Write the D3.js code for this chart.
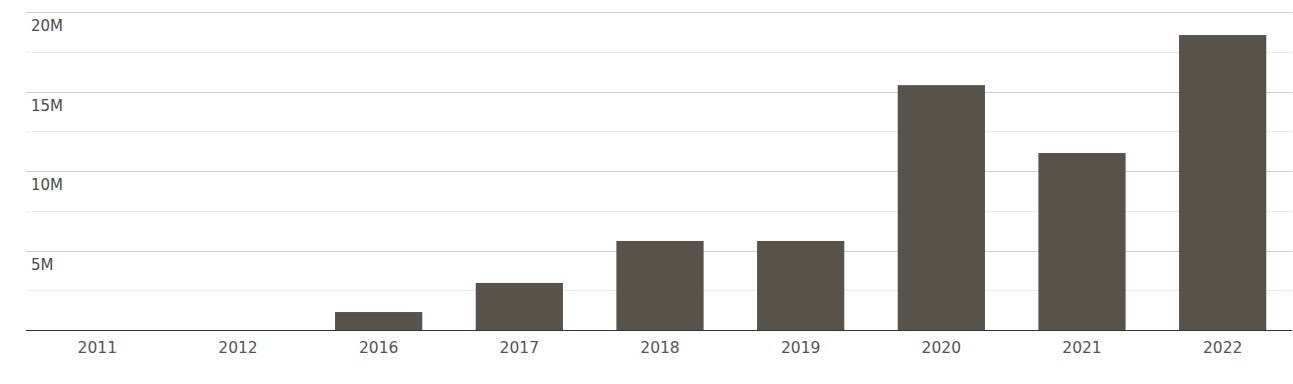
<!DOCTYPE html>
<html>
<head>
  <meta charset="UTF-8">
  <style>
    body { margin: 0; background: #fff; }
    svg text { font-family: "DejaVu Sans", sans-serif; }
  </style>
</head>
<body>
  <svg></svg>
  <script src="https://d3js.org/d3.v7.min.js"></script>
  <script>
    const years = ["2011", "2012", "2016", "2017", "2018", "2019", "2020", "2021", "2022"];
    const values = [0, 0, 1130000, 2960000, 5600000, 5600000, 15400000, 11130000, 18550000];
    const majorTicks = [5000000, 10000000, 15000000, 20000000];
    const minorTicks = [2500000, 7500000, 12500000, 17500000];
    const tickLabels = ["5M", "10M", "15M", "20M"];

    let width = 1293, height = 384;
    let svg = d3.select("svg").attr("width", width).attr("height", height);

    let x = d3.scaleBand().domain(years).range([27, 1293]).paddingInner(0.38).paddingOuter(0.19);
    let y = d3.scaleLinear().domain([0, 20000000]).range([330, 12]);

    // minor gridlines
    svg.append("g").selectAll("line").data(minorTicks).enter().append("line")
      .attr("x1", 26).attr("x2", 1292)
      .attr("y1", d => Math.round(y(d)) + 0.5).attr("y2", d => Math.round(y(d)) + 0.5)
      .attr("stroke", "#ebebeb");
    // major gridlines
    svg.append("g").selectAll("line").data(majorTicks).enter().append("line")
      .attr("x1", 26).attr("x2", 1292)
      .attr("y1", d => Math.round(y(d)) + 0.5).attr("y2", d => Math.round(y(d)) + 0.5)
      .attr("stroke", "#cccccc");

    // bars
    svg.append("g").selectAll("rect").data(values).enter().append("rect")
      .attr("x", (d, i) => x(years[i]))
      .attr("width", x.bandwidth())
      .attr("y", d => y(d))
      .attr("height", d => y(0) - y(d))
      .attr("fill", "#57524a");

    // baseline
    svg.append("line")
      .attr("x1", 26).attr("x2", 1292)
      .attr("y1", y(0) + 0.5).attr("y2", y(0) + 0.5)
      .attr("stroke", "#333");

    // y labels
    svg.append("g").selectAll("text").data(majorTicks).enter().append("text")
      .attr("x", 31).attr("y", d => y(d) + 19)
      .attr("font-size", 15).attr("fill", "#4a4a4a")
      .text((d, i) => tickLabels[i]);

    // x axis labels
    let xAxis = d3.axisBottom(x).tickSize(0).tickPadding(12);
    let gx = svg.append("g").attr("transform", "translate(0,330)").call(xAxis);
    gx.select(".domain").remove();
    gx.selectAll("text").attr("font-size", 15.5).attr("fill", "#555").attr("font-family", "DejaVu Sans, sans-serif");
  </script>
</body>
</html>
